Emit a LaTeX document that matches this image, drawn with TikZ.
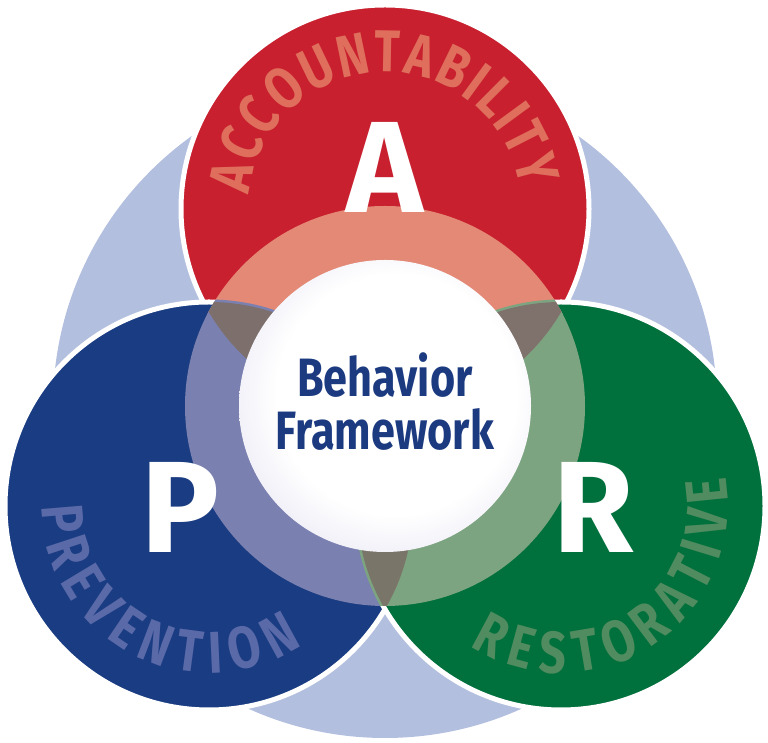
\documentclass[tikz,border=0pt]{standalone}
\usepackage{fontspec}
\setmainfont{Fira Sans}
\newfontfamily\condfont{Fira Sans}[FakeStretch=0.80]
\usetikzlibrary{decorations.text,calc}
\definecolor{lav}{HTML}{B3BFDF}
\definecolor{redc}{HTML}{C8202F}
\definecolor{bluec}{HTML}{1A3C82}
\definecolor{greenc}{HTML}{00703C}
\definecolor{salmon}{HTML}{E38976}
\definecolor{lavb}{HTML}{7A80B0}
\definecolor{sage}{HTML}{7DA480}
\definecolor{grayRB}{HTML}{7D706C}
\definecolor{grayRG}{HTML}{7F726C}
\definecolor{grayBG}{HTML}{7A7569}
\definecolor{acctext}{HTML}{DF6F5C}
\definecolor{prevtext}{HTML}{5A6AA8}
\definecolor{restext}{HTML}{508C5F}
\definecolor{navytext}{HTML}{1B3A80}
\definecolor{ballmid}{HTML}{DEDCEF}
\definecolor{ballrim}{HTML}{A8A5D1}
\pgfdeclareradialshading{ballshade}{\pgfpoint{3bp}{3bp}}{color(0bp)=(white);color(20bp)=(white);color(36bp)=(ballmid);color(48bp)=(ballrim);color(55bp)=(ballrim)}
\begin{document}
\begin{tikzpicture}[x=1pt,y=1pt,
  bigcircle/.style={line width=5pt, draw=white},
  bigletter/.style={text=white, font=\bfseries\fontsize{130}{130}\selectfont, inner sep=0pt, anchor=base},
  centertext/.style={text=navytext, font=\condfont\bfseries\fontsize{54}{54}\selectfont, inner sep=0pt, anchor=base}]
\useasboundingbox (0,0) rectangle (768,743);
\coordinate (C) at (385,337);
\coordinate (RC) at (385,534);
\coordinate (BC) at (209,237);
\coordinate (GC) at (561,237);
% background lavender disc
\fill[lav] (C) circle (332);
% three main circles
\filldraw[bigcircle, fill=redc] (RC) circle (204);
\filldraw[bigcircle, fill=bluec] (BC) circle (204);
\filldraw[bigcircle, fill=greenc] (GC) circle (204);
% central ring with overlaps
\begin{scope}
  \clip (C) circle (200);
  \fill[salmon] (RC) circle (206.5);
  \fill[lavb] (BC) circle (206.5);
  \fill[sage] (GC) circle (206.5);
  \begin{scope}
    \clip (RC) circle (204);
    \fill[grayRB] (BC) circle (204);
    \fill[grayRG] (GC) circle (204);
  \end{scope}
  \begin{scope}
    \clip (BC) circle (204);
    \fill[grayBG] (GC) circle (204);
  \end{scope}
\end{scope}
% white ball
\begin{scope}
  \clip (C) circle (146);
  \shade[shading=ballshade] ($(C)+(-150,-150)$) rectangle ($(C)+(150,150)$);
\end{scope}
% curved texts
\path[decorate, decoration={text along path, text align={fit to path},
  text={|\condfont\bfseries\fontsize{59}{59}\selectfont\color{acctext}|ACCOUNTABILITY}}]
  ($(RC)+(174:137)$) arc[start angle=174, end angle=9, radius=137];
\path[decorate, decoration={text along path, text align={fit to path},
  text={|\condfont\bfseries\fontsize{59}{59}\selectfont\color{prevtext}|PREVENTION}}]
  ($(BC)+(180:167)$) arc[start angle=180, end angle=304, radius=167];
\path[decorate, decoration={text along path, text align={fit to path},
  text={|\condfont\bfseries\fontsize{59}{59}\selectfont\color{restext}|RESTORATIVE}}]
  ($(GC)+(237:167)$) arc[start angle=237, end angle=370, radius=167];
% big letters
\node[bigletter] (A) at (385,530) {A};
\node[bigletter] (P) at (180.5,190) {P};
\node[bigletter] (R) at (594,190) {R};
% centre text
\node[centertext] (behav) at (385,346) {Behavior};
\node[centertext] (frame) at (385,293) {Framework};
\end{tikzpicture}
\end{document}
